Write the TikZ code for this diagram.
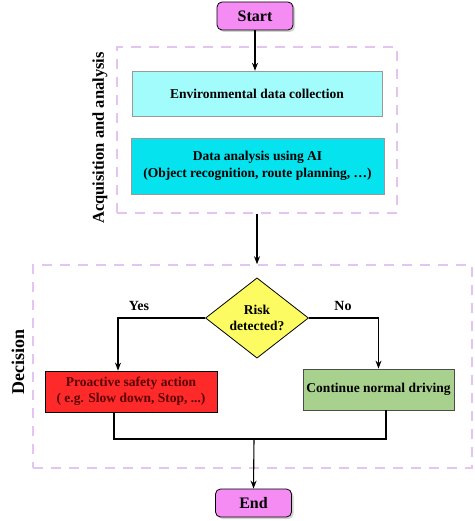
\documentclass[tikz,border=0pt]{standalone}
\usepackage{fontspec}
\setmainfont{Liberation Serif}
\usetikzlibrary{shapes.geometric,arrows.meta,shadows}
\definecolor{startpink}{HTML}{F48CF4}
\definecolor{lightcyan}{HTML}{A2FCFC}
\definecolor{deepcyan}{HTML}{05E3EE}
\definecolor{alarmred}{HTML}{FE2A2A}
\definecolor{calmgreen}{HTML}{A8D18D}
\definecolor{riskyellow}{HTML}{FCFC62}
\definecolor{groupline}{HTML}{E4C4F0}
\definecolor{darkred}{HTML}{5A0000}
\begin{document}
\begin{tikzpicture}[x=1pt,y=-1pt,
    terminal/.style={draw, thick, rounded corners=5pt, fill=startpink,
      minimum width=76pt, minimum height=28pt, inner sep=0pt,
      font=\fontsize{16}{18}\selectfont\bfseries,
      drop shadow={shadow xshift=2pt, shadow yshift=-2pt, fill=gray!70}},
    taskbox/.style={draw=gray!80, inner sep=0pt, align=center,
      font=\fontsize{13.5}{17}\selectfont\bfseries},
    group/.style={draw=groupline, line width=1.6pt, dash pattern=on 10pt off 8pt,
      inner sep=0pt},
    sidelabel/.style={rotate=90, font=\fontsize{16.5}{18}\selectfont\bfseries},
    flow/.style={line width=1.1pt, -{Stealth[length=8pt,width=6pt]}},
    link/.style={line width=1.1pt}]
    \useasboundingbox (0,0) rectangle (474,521);

    % Groups
    \node[group, minimum width=280pt, minimum height=166pt] (acq) at (257,130) {};
    \node[group, minimum width=439pt, minimum height=203pt] (dec) at (252.5,366.5) {};
    \node[sidelabel] at (100,138) {Acquisition and analysis};
    \node[sidelabel, font=\fontsize{18}{20}\selectfont\bfseries] at (18,362) {Decision};

    % Terminals
    \node[terminal] (start) at (255,16) {Start};
    \node[terminal] (end) at (253.5,503) {End};

    % Acquisition steps
    \node[taskbox, fill=lightcyan, minimum width=250pt, minimum height=45pt] (collect) at (257,93.5)
      {Environmental data collection};
    \node[taskbox, fill=deepcyan, minimum width=253pt, minimum height=56pt] (analyse) at (257.5,166)
      {Data analysis using AI\\(Object recognition, route planning, \dots)};

    % Decision
    \node[draw, thick, diamond, fill=riskyellow, minimum width=103pt, minimum height=74pt,
      inner sep=0pt, align=center, font=\fontsize{13.5}{16}\selectfont\bfseries] (risk) at (257,318)
      {Risk\\detected?};
    \node[taskbox, draw=black, thick, fill=alarmred, text=darkred, minimum width=172pt,
      minimum height=41pt, font=\fontsize{13.5}{16}\selectfont\bfseries] (act) at (131,391.5)
      {Proactive safety action\\( e.g. Slow down, Stop, ...)};
    \node[taskbox, draw=black!70, thick, fill=calmgreen, minimum width=151pt, minimum height=41pt]
      (cont) at (378.5,389.5) {Continue normal driving};
    \node[font=\fontsize{14}{16}\selectfont\bfseries] at (139,306) {Yes};
    \node[font=\fontsize{14}{16}\selectfont\bfseries] at (343,306) {No};

    % Connectors
    \draw[flow] (start.south) -- (start.south |- collect.north);
    \draw[flow] (acq.south) -- (acq.south |- dec.north);
    \draw[flow] (risk.west) -| ([xshift=-13pt]act.north);
    \draw[flow] (risk.east) -| (cont.north);
    \coordinate (merge) at (254,439);
    \draw[link] ([xshift=-17pt]act.south) |- (merge) -| ([xshift=7.5pt]cont.south);
    \draw[flow] (merge) -- (end.north);
\end{tikzpicture}
\end{document}
